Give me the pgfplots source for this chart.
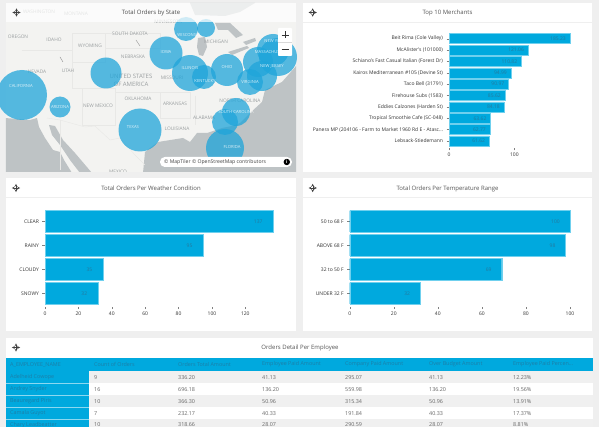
\documentclass[border=0pt]{standalone}
\usepackage{pgfplots}
\pgfplotsset{compat=1.18}
\usepackage{fontspec}
\setmainfont{Open Sans}
\definecolor{bg}{HTML}{EFEFEF}
\definecolor{barc}{HTML}{00A9DE}
\definecolor{baredge}{HTML}{6FD0EE}
\definecolor{vallab}{HTML}{237A9F}
\definecolor{ttl}{HTML}{555555}
\definecolor{tick}{HTML}{333333}
\definecolor{sea}{HTML}{BEC3C5}
\definecolor{land}{HTML}{F3F3F1}
\definecolor{border}{HTML}{E8E8E6}
\definecolor{maplab}{HTML}{9A9EA0}
\definecolor{bub}{HTML}{1FA5DA}
\definecolor{rowg}{HTML}{F0F0F0}
\definecolor{tabt}{HTML}{666666}
\definecolor{heads}{HTML}{1C7FA8}
\newcommand{\fs}[1]{\fontsize{#1}{#1}\selectfont}
\newcommand{\moveicon}[2]{%
  \draw[<->,>=stealth,line width=.35pt,black!75] (#1-4.2,#2)--(#1+4.2,#2);
  \draw[<->,>=stealth,line width=.35pt,black!75] (#1,#2-4.2)--(#1,#2+4.2);}
\newcommand{\ml}[3]{\addplot[draw=none,forget plot] coordinates {(#1,#2)} node[text=maplab,font=\fs{4.8},inner sep=0pt] {#3};}
\newcommand{\bb}[3]{\addplot[only marks,mark=*,mark size=#3pt,mark options={draw opacity=0,fill=bub,fill opacity=.75},forget plot] coordinates {(#1,#2)};}
\pgfplotsset{
  barax/.style={
    scale only axis, y dir=reverse, xbar, axis x line*=bottom, axis y line*=left,
    axis line style={draw=none}, xmin=0, tick style={tick,line width=.35pt},
    major tick length=2.5pt, tick align=outside,
    ticklabel style={font=\fs{5},text=tick},
    /pgf/number format/assume math mode=true,
    xticklabel style={yshift=1pt},
    yticklabel style={xshift=0pt},
    nodes near coords,
    point meta=x,
    every node near coord/.append style={anchor=east,font=\fs{5},text=vallab,inner sep=0pt},
    clip=false,
  }
}
\begin{document}
\begin{tikzpicture}[x=1pt,y=-1pt]
\useasboundingbox (0,0) rectangle (599,427);
\clip (0,0) rectangle (599,427);
\fill[bg] (0,0) rectangle (599,427);
% panels
\fill[white] (303,3) rectangle (592,172);
\fill[white] (6,178) rectangle (296,331);
\fill[white] (303,178) rectangle (592,331);
\fill[white] (6,338) rectangle (593,427);
\draw[bg,line width=.6pt] (303,22.5)--(592,22.5);
\draw[bg,line width=.6pt] (6,197.5)--(296,197.5);
\draw[bg,line width=.6pt] (303,197.5)--(592,197.5);

% map
\begin{axis}[at={(6pt,-3pt)},anchor=north west,scale only axis,width=290pt,height=169pt,
  xmin=6,xmax=296,ymin=3,ymax=172,y dir=reverse,ticks=none,axis line style={draw=none},clip=true,
  axis background/.style={fill=land}]
\addplot[fill=sea,draw=none,forget plot] coordinates {(5,118)(30,120)(37,118)(39,127)(45,138)(53,150)(60,152)(64,160)(72,173)(5,173)} -- cycle;
\addplot[fill=sea,draw=none,forget plot] coordinates {(49,125)(55,126)(63,140)(75,153)(92,173)(80,173)(70,160)(60,145)(52,135)} -- cycle;
\addplot[fill=sea,draw=none,forget plot] coordinates {(143,173)(145,152)(150,148)(158,142)(183,138)(190,142)(197,133)(207,133)(222,128)(232,126)(240,123)(250,113)(262,102)(265,90)(282,82)(297,65)(297,173)} -- cycle;
\addplot[fill=sea,draw=none,forget plot] coordinates {(198,38)(205,37)(207,47)(203,56)(199,55)(197,47)} -- cycle;
\addplot[fill=sea,draw=none,forget plot] coordinates {(215,23)(230,23)(243,35)(236,38)(228,30)(218,30)} -- cycle;
\addplot[fill=sea,draw=none,forget plot] coordinates {(228,52)(247,46)(249,48)(232,55)} -- cycle;
\addplot[fill=sea,draw=none,forget plot] coordinates {(243,42)(255,38)(256,41)(246,45)} -- cycle;
\addplot[fill=sea,draw=none,forget plot] coordinates {(190,3)(255,3)(240,12)(225,16)(195,15)} -- cycle;
\addplot[border,line width=.4pt,forget plot] coordinates {(72,33)(105,33)(105,62)(72,62)(72,33)};
\addplot[border,line width=.4pt,forget plot] coordinates {(72,62)(72,88)(115,88)(115,125)(82,125)(82,88)};
\addplot[border,line width=.4pt,forget plot] coordinates {(105,33)(160,33)(160,48)(105,48)};
\addplot[border,line width=.4pt,forget plot] coordinates {(115,92)(160,92)(160,118)};
\addplot[border,line width=.4pt,forget plot] coordinates {(160,118)(190,118)(190,92)(160,92)};
\addplot[border,line width=.4pt,forget plot] coordinates {(22,50)(72,50)};
\addplot[border,line width=.4pt,forget plot] coordinates {(47,118)(60,120)(85,127)(95,126)(110,140)(120,138)(135,155)(145,165)};
\addplot[border,line width=.4pt,forget plot] coordinates {(60,120)(60,170)};
\addplot[border,line width=.4pt,forget plot] coordinates {(195,96)(195,125)};
\addplot[black!45,line width=.35pt,forget plot] coordinates {(136,40)(140,46)};
\addplot[black!45,line width=.35pt,forget plot] coordinates {(60,57)(63,62)};
\ml{39}{12}{WASHINGTON}\ml{76}{14}{MONTANA}\ml{168}{22}{MINNESOTA}
\ml{18}{37}{OREGON}\ml{54}{39.5}{IDAHO}\ml{90}{45.5}{WYOMING}
\ml{130}{34}{SOUTH DAKOTA}\ml{133}{57}{NEBRASKA}\ml{37}{72}{NEVADA}\ml{68}{71}{UTAH}
\addplot[draw=none,forget plot] coordinates {(131,76)} node[text=maplab,font=\fs{6},inner sep=0pt] {UNITED STATES};
\addplot[draw=none,forget plot] coordinates {(131,84)} node[text=maplab,font=\fs{6},inner sep=0pt] {OF AMERICA};
\ml{172}{78}{MISSOURI}\ml{138}{98.5}{OKLAHOMA}\ml{98}{106}{NEW MEXICO}\ml{175}{104}{ARKANSAS}
\ml{177}{129}{LOUISIANA}\ml{204}{118}{ALABAMA}\ml{240}{101}{NORTH CAROLINA}\ml{216}{42}{MICHIGAN}\ml{118}{172}{MEXICO}
\bb{22}{95}{25}\bb{60}{107}{10.5}\bb{106}{73}{15.5}\bb{140}{130}{21.5}\bb{166}{53}{16.5}
\bb{190}{73}{18}\bb{204}{77}{12}\bb{186}{29}{12}\bb{206}{28}{9}\bb{227}{70}{16}
\bb{250}{82}{13}\bb{236}{112}{14}\bb{225}{122}{13}\bb{225}{148}{19}
\bb{273}{50}{16}\bb{258}{62}{15}\bb{278}{57}{19}\bb{262}{76}{15}
\end{axis}
% bubble labels, on top of the bubbles
\begin{scope}[every node/.style={text=white,text opacity=.8,font=\fs{4.2},inner sep=0pt}]
\node at (21,86) {CALIFORNIA};
\node at (60,107) {ARIZONA};
\node at (166,52.5) {IOWA};
\node at (190,68) {ILLINOIS};
\node at (205,81) {KENTUCKY};
\node at (189,35) {WISCONSIN};
\node at (227,67) {OHIO};
\node at (250,82) {VIRGINIA};
\node at (236,112) {SOUTH CAROLINA};
\node at (232,147) {FLORIDA};
\node at (272,66.5) {NEW JERSEY};
\node at (275,41) {NEW YORK};
\node at (272,52) {MASSACHUSETTS};
\node at (133,127) {TEXAS};
\end{scope}
\fill[white,opacity=.72] (6,3) rectangle (296,22.5);
\node[font=\fs{6},text=black!70,inner sep=0pt] at (151,13) {Total Orders by State};
% map controls
\fill[white,rounded corners=.8pt] (278,28) rectangle (292,56);
\draw[black!15,line width=.3pt] (278,42)--(292,42);
\draw[black!80,line width=.7pt] (281.5,35)--(288.5,35) (285,31.5)--(285,38.5);
\draw[black!80,line width=.7pt] (281.5,49.5)--(288.5,49.5);
\fill[white,rounded corners=4.8pt] (160,157) rectangle (292,167);
\node[anchor=west,font=\fs{5.1},text=black!75,inner sep=0pt] at (164,162) {© MapTiler © OpenStreetMap contributors};
\fill[black] (286.8,162) circle (3.2);
\node[font=\bfseries\fs{4.4},text=white,inner sep=0pt] at (286.8,162) {i};

% titles and icons
\node[font=\fs{6},text=ttl,inner sep=0pt] at (447.5,13) {Top 10 Merchants};
\node[font=\fs{6},text=ttl,inner sep=0pt] at (151,188.5) {Total Orders Per Weather Condition};
\node[font=\fs{6},text=ttl,inner sep=0pt] at (447.5,188.5) {Total Orders Per Temperature Range};
\node[font=\fs{6},text=ttl,inner sep=0pt] at (300,348) {Orders Detail Per Employee};
\moveicon{16.5}{12.5}\moveicon{312.7}{12.5}\moveicon{16}{188}\moveicon{312.7}{188}\moveicon{16}{347.5}

% merchants
\begin{axis}[barax,at={(449pt,-33pt)},anchor=north west,width=124.1pt,height=114.8pt,
  xmax=190,ymin=-0.5,ymax=9.6,bar width=10pt,
  xtick={0,100},ytick={0,1,2,3,4,5,6,7,8,9},
  yticklabels={{Beit Rima (Cole Valley)},{McAlister's (101000)},{Schiano's Fast Casual Italian (Forest Dr)},{Kairos Mediterranean \#105 (Devine St)},{Taco Bell (31791)},{Firehouse Subs (1583)},{Eddies Calzones (Harden St)},{Tropical Smoothie Cafe (SC-048)},{Panera MP (204106 - Farm to Market 1960 Rd E - Atasc\ldots},{Lebsack-Stiedemann}},
  nodes near coords={\pgfmathprintnumber[fixed,fixed zerofill,precision=2]{\pgfplotspointmeta}},
  every node near coord/.append style={xshift=-4pt}]
\addplot[fill=barc,draw=baredge,line width=.4pt] coordinates {(185.23,0)(121.06,1)(110.82,2)(94.99,3)(90.97,4)(85.62,5)(84.18,6)(63.62,7)(62.77,8)(61.62,9)};
\end{axis}

% weather
\begin{axis}[barax,at={(45pt,-209.3pt)},anchor=north west,width=233.7pt,height=97.2pt,
  xmax=140,ymin=-0.5,ymax=3.55,bar width=21.3pt,
  xtick={0,20,...,120},ytick={0,1,2,3},yticklabels={CLEAR,RAINY,CLOUDY,SNOWY},
  every node near coord/.append style={xshift=-11pt}]
\addplot[fill=barc,draw=baredge,line width=.4pt] coordinates {(137,0)(95,1)(35,2)(32,3)};
\end{axis}

% temperature
\begin{axis}[barax,at={(349.7pt,-209.3pt)},anchor=north west,width=220.3pt,height=97.2pt,
  xmax=100,ymin=-0.5,ymax=3.55,bar width=21.3pt,
  xtick={0,20,...,100},ytick={0,1,2,3},yticklabels={50 to 68 F,ABOVE 68 F,32 to 50 F,UNDER 32 F},
  every node near coord/.append style={xshift=-10pt}]
\addplot[fill=barc,draw=baredge,line width=.4pt] coordinates {(100,0)(98,1)(69,2)(32,3)};
\end{axis}

% table
\fill[barc] (6,358) rectangle (593,371);
\fill[barc] (6,371) rectangle (89,427);
\fill[rowg] (89,371) rectangle (593,383.3);
\fill[rowg] (89,395.3) rectangle (593,407.3);
\fill[rowg] (89,419.3) rectangle (593,431);
\draw[white!55!barc,line width=.3pt] (6,383.3)--(89,383.3) (6,395.3)--(89,395.3) (6,407.3)--(89,407.3) (6,419.3)--(89,419.3);
\foreach \x/\t in {10/A\_EMPLOYEE\_NAME,94/Count of Orders,178/Orders Total Amount,262/Employee Paid Amount,345/Company Paid Amount,429/Over Budget Amount,513/Employee Paid Percen\ldots}
  \node[anchor=west,font=\fs{5.4},text=heads,inner sep=0pt] at (\x,364.5) {\t};
\foreach \y/\t in {377.3/Adelheid Cowope,389.3/Andrey Snyder,401.3/Beauregard Piris,413.3/Camala Guyot,424.8/Chary Leadbeatter}
  \node[anchor=west,font=\fs{5.4},text=heads,inner sep=0pt] at (10,\y) {\t};
\foreach \y/\a/\b/\c/\d/\e/\f in {377.3/9/336.20/41.13/295.07/41.13/12.23\%,389.3/16/696.18/136.20/559.98/136.20/19.56\%,401.3/10/366.30/50.96/315.34/50.96/13.91\%,413.3/7/232.17/40.33/191.84/40.33/17.37\%,424.8/10/318.66/28.07/290.59/28.07/8.81\%}{
  \node[anchor=west,font=\fs{5.4},text=tabt,inner sep=0pt] at (94,\y) {\a};
  \node[anchor=west,font=\fs{5.4},text=tabt,inner sep=0pt] at (178,\y) {\b};
  \node[anchor=west,font=\fs{5.4},text=tabt,inner sep=0pt] at (262,\y) {\c};
  \node[anchor=west,font=\fs{5.4},text=tabt,inner sep=0pt] at (345,\y) {\d};
  \node[anchor=west,font=\fs{5.4},text=tabt,inner sep=0pt] at (429,\y) {\e};
  \node[anchor=west,font=\fs{5.4},text=tabt,inner sep=0pt] at (513,\y) {\f};
}
\end{tikzpicture}
\end{document}
